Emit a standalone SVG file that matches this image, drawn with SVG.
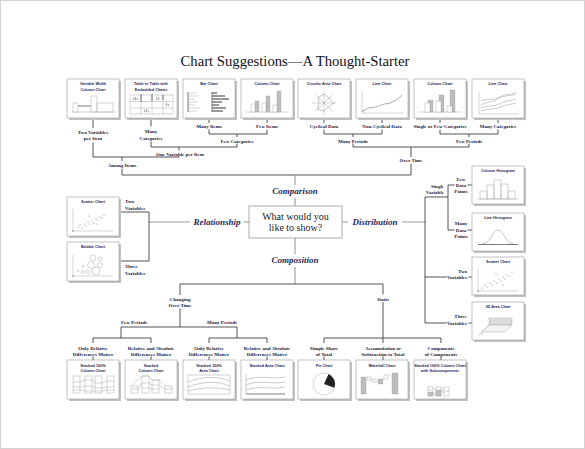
<svg xmlns="http://www.w3.org/2000/svg" xmlns:xlink="http://www.w3.org/1999/xlink" width="585" height="449" viewBox="0 0 585 449">
<style>
.bx{fill:#fff;stroke:#9a9a9a;stroke-width:0.6}
.sh{fill:#c2c2c2}
.tt{font-family:"Liberation Sans",Arial,sans-serif;font-weight:bold;font-size:3.8px;fill:#1a1d5a;text-anchor:middle}
.lb,.le,.ls{font-family:"Liberation Serif","Times New Roman",serif;font-size:5px;font-weight:bold;fill:#1b1b3c}
.lb{text-anchor:middle}
.le{text-anchor:end}
.ls{text-anchor:start}
.cat{font-family:"Liberation Serif","Times New Roman",serif;font-size:9px;font-weight:bold;font-style:italic;fill:#1f2a5c;text-anchor:middle}
.q{font-family:"Liberation Serif","Times New Roman",serif;font-size:10px;fill:#222;text-anchor:middle}
.c{fill:none;stroke:#2a2a2a;stroke-width:0.8}
.cg{fill:none;stroke:#9a9a9a;stroke-width:1.1}
.g{fill:none;stroke:#a8a8a8;stroke-width:0.5}
.gf{fill:#bdbdbd;stroke:#999;stroke-width:0.3}
.wf{fill:#fff;stroke:#999;stroke-width:0.4}
.k{fill:none;stroke:#222;stroke-width:0.6}
.d{fill:#666}
</style>
<defs>
<g id="fr"><rect class="sh" x="2" y="2" width="52" height="39"/><rect class="bx" x="0" y="0" width="52" height="39"/></g>
<g id="fr2"><rect class="sh" x="2" y="2" width="52" height="38"/><rect class="bx" x="0" y="0" width="52" height="38"/></g>
</defs>
<rect x="0" y="0" width="585" height="449" fill="#fff"/>
<rect x="0.5" y="0.5" width="584" height="448" fill="none" stroke="#d4d4d4"/>
<text x="295" y="66" font-family="'Liberation Serif','Times New Roman',serif" font-size="14.5" fill="#111122" text-anchor="middle" textLength="229" lengthAdjust="spacingAndGlyphs">Chart Suggestions—A Thought-Starter</text>

<g id="connectors">
<path class="c" d="M93,118V128M93,142.5V157H179M151,118V126.5M151,141.5V147H237M179,147V150.5M179,156V157M209,118V123M209,129.5V134H267M267,118V123M267,129.5V134M237,134V137M237,143.5V147M122,157V161M122,168.5V175H411"/>
<path class="c" d="M324,118V123M324,129.5V134H382M382,118V123M382,129.5V134M353,134V137M353,143.5V147H469M440,118V123M440,129.5V134H498M498,118V123M498,129.5V134M469,134V137M469,143.5V147M411,147V157M411,164V175"/>
<path class="cg" d="M295,175V185M295,198V206M295,238V254M295,267V284M249,222H244M190,222H149M342,222H348M402,222H425"/>
<path class="c" d="M149,212V261M118,212H149M118,261H149"/>
<path class="c" d="M425,197V323M425,197H448M448,185V230M448,185H454.5M467.5,185H472M448,230H454.5M467.5,230H472M425,277H446.5M468.5,277H472M425,323H446.5M468.5,323H472"/>
<path class="c" d="M180,284H383M180,284V295M180,308.5V327M121,327H237M121,327V338M237,327V338M93,338H151M209,338H267M93,338V343M151,338V343M209,338V343M267,338V343M93,356.5V360M151,356.5V360M209,356.5V360M267,356.5V360"/>
<path class="c" d="M383,284V294.5M383,302V343M324,338H441M324,338V343M441,338V343M324,356.5V360M383,356.5V360M441,356.5V360"/>
</g>

<g id="labels">
<text class="lb" x="93" y="133.5">Two Variables</text><text class="lb" x="93" y="140">per Item</text>
<text class="lb" x="151" y="132.5">Many</text><text class="lb" x="151" y="139.5">Categories</text>
<text class="lb" x="209" y="127.5">Many Items</text><text class="lb" x="267" y="127.5">Few Items</text>
<text class="lb" x="237" y="142.5">Few Categories</text>
<text class="lb" x="180" y="155.5">One Variable per Item</text>
<text class="lb" x="122" y="167">Among Items</text>
<text class="lb" x="324" y="127.5">Cyclical Data</text><text class="lb" x="382" y="127.5">Non-Cyclical Data</text>
<text class="lb" x="353" y="142.5">Many Periods</text>
<text class="lb" x="440" y="127.5">Single or Few Categories</text><text class="lb" x="498" y="127.5">Many Categories</text>
<text class="lb" x="469" y="142.5">Few Periods</text>
<text class="lb" x="411" y="162">Over Time</text>
<text class="cat" x="295" y="194">Comparison</text>
<text class="cat" x="217" y="225">Relationship</text>
<text class="cat" x="375" y="225">Distribution</text>
<text class="cat" x="295" y="263">Composition</text>
<text class="ls" x="125" y="202.5">Two</text><text class="ls" x="125" y="209.5">Variables</text>
<text class="ls" x="125" y="268">Three</text><text class="ls" x="125" y="274.5">Variables</text>
<text class="le" x="444" y="187.5">Single</text><text class="le" x="444" y="194">Variable</text>
<text class="lb" x="461" y="180.5">Few</text><text class="lb" x="461" y="186.5">Data</text><text class="lb" x="461" y="193">Points</text>
<text class="lb" x="461" y="225">Many</text><text class="lb" x="461" y="231.5">Data</text><text class="lb" x="461" y="238">Points</text>
<text class="le" x="467" y="273">Two</text><text class="le" x="467" y="278.5">Variables</text>
<text class="le" x="467" y="317.5">Three</text><text class="le" x="467" y="324.5">Variables</text>
<text class="lb" x="180" y="301">Changing</text><text class="lb" x="180" y="306.5">Over Time</text>
<text class="lb" x="134" y="324">Few Periods</text><text class="lb" x="222" y="324">Many Periods</text>
<text class="lb" x="383" y="300.5">Static</text>
<text class="lb" x="93" y="349.5">Only Relative</text><text class="lb" x="93" y="355.5">Differences Matter</text>
<text class="lb" x="151" y="349.5">Relative and Absolute</text><text class="lb" x="151" y="355.5">Differences Matter</text>
<text class="lb" x="209" y="349.5">Only Relative</text><text class="lb" x="209" y="355.5">Differences Matter</text>
<text class="lb" x="267" y="349.5">Relative and Absolute</text><text class="lb" x="267" y="355.5">Differences Matter</text>
<text class="lb" x="324" y="349.5">Simple Share</text><text class="lb" x="324" y="355.5">of Total</text>
<text class="lb" x="383" y="349.5">Accumulation or</text><text class="lb" x="383" y="355.5">Subtraction to Total</text>
<text class="lb" x="441" y="349.5">Components</text><text class="lb" x="441" y="355.5">of Components</text>
</g>

<g id="n-question">
<rect x="249" y="206" width="93" height="32" fill="#fff" stroke="#999" stroke-width="0.8"/>
<text class="q" x="295.5" y="219.5">What would you</text>
<text class="q" x="295.5" y="231">like to show?</text>
</g>

<g id="n-varwidth" transform="translate(67,79)"><use href="#fr"/>
<text class="tt" x="26" y="6">Variable Width</text><text class="tt" x="26" y="12">Column Chart</text>
<path class="g" d="M5,33H48"/><rect class="g" x="6" y="24" width="5" height="9"/><path class="k" d="M11,27H24"/><rect class="g" x="24" y="17" width="6" height="16"/><rect class="g" x="30" y="24" width="16" height="9"/>
</g>
<g id="n-table" transform="translate(125,79)"><use href="#fr"/>
<text class="tt" x="26" y="6">Table or Table with</text><text class="tt" x="26" y="12">Embedded Charts</text>
<path class="g" d="M5,16H48M5,22.5H48M5,29H48M5,35H48M5,16V35M16,16V35M27,16V35M38,16V35M48,16V35"/>
<path class="k" d="M16,15V23M27,15V22M38,16V21"/>
<path class="gf" d="M8,21h1v-2h-1zM10,21h1v-3h-1zM12,21h1v-1.5h-1zM31,21h1v-2h-1zM33,21h1v-3h-1zM19,33h1v-2h-1zM21,33h1v-3h-1zM23,33h1v-1h-1zM41,27h1v-3h-1zM43,27h1v-2h-1z"/>
</g>
<g id="n-bar" transform="translate(183,79)"><use href="#fr"/>
<text class="tt" x="26" y="6">Bar Chart</text>
<path class="g" d="M5,14h9M5,17h11M5,20h7M5,23h10M5,26h8M5,29h12M5,32h9" stroke-width="1.2"/>
<path class="k" d="M5,13V33M29,13V33"/>
<path d="M29,14h5M29,17h13M29,20h17M29,23h10M29,26h7M29,29h14M29,32h11" stroke="#777" stroke-width="1.6"/>
</g>
<g id="n-column1" transform="translate(241,79)"><use href="#fr"/>
<text class="tt" x="26" y="6">Column Chart</text>
<path class="g" d="M4,33H48"/>
<rect class="gf" x="14" y="22" width="4" height="11"/><rect class="gf" x="25" y="17" width="4" height="16"/><rect class="gf" x="36" y="12" width="4" height="21"/>
<rect class="wf" x="10" y="25" width="4" height="8"/><rect class="wf" x="21" y="24" width="4" height="9"/><rect class="wf" x="32" y="26" width="4" height="7"/>
</g>
<g id="n-circular" transform="translate(298,79)"><use href="#fr"/>
<text class="tt" x="26" y="6">Circular Area Chart</text>
<path class="g" d="M26,12V36M14,24H38M17.5,15.5L34.5,32.5M34.5,15.5L17.5,32.5"/>
<path fill="none" stroke="#888" stroke-width="0.5" d="M26,15L30.9,19.1L36,24L30.2,28.2L26,32L19.6,30.4L21,24L20.3,18.3Z"/>
</g>
<g id="n-line1" transform="translate(356,79)"><use href="#fr"/>
<text class="tt" x="26" y="6">Line Chart</text>
<path class="g" d="M6,12V34H47"/>
<polyline fill="none" stroke="#777" stroke-width="0.6" points="7,32 12,29 17,28.5 23,27 28,25 33,24.5 38,22 42,20 46,16"/>
<circle class="d" cx="7" cy="32" r="0.6"/>
</g>
<g id="n-column2" transform="translate(414,79)"><use href="#fr"/>
<text class="tt" x="26" y="6">Column Chart</text>
<path class="g" d="M4,33H48"/>
<rect class="gf" x="14" y="21" width="5" height="12"/><rect class="gf" x="25" y="16" width="5" height="17"/><rect class="gf" x="36" y="11" width="5" height="22"/>
<rect class="wf" x="11" y="24" width="5" height="9"/><rect class="wf" x="22" y="22" width="5" height="11"/><rect class="wf" x="33" y="27" width="5" height="6"/>
</g>
<g id="n-line2" transform="translate(472,79)"><use href="#fr"/>
<text class="tt" x="26" y="6">Line Chart</text>
<path class="g" d="M7,13V35H47"/>
<path fill="none" stroke="#999" stroke-width="0.5" d="M9,26C15,22 20,24 25,20S35,18 44,15M9,29C15,26 22,28 27,25S37,22 44,20M9,22C16,19 22,22 28,18S38,17 44,13M9,32C16,29 23,31 29,28S38,26 44,24"/>
</g>

<g id="n-scatter-left" transform="translate(67,197)"><use href="#fr"/>
<text class="tt" x="26" y="6">Scatter Chart</text>
<path class="g" d="M6,12V34H46"/><circle class="d" cx="6" cy="34" r="0.7"/>
<g class="d"><circle cx="11" cy="30" r="0.5"/><circle cx="13" cy="28" r="0.5"/><circle cx="15" cy="31" r="0.5"/><circle cx="17" cy="27" r="0.5"/><circle cx="19" cy="29" r="0.5"/><circle cx="21" cy="25" r="0.5"/><circle cx="23" cy="27" r="0.5"/><circle cx="25" cy="24" r="0.5"/><circle cx="27" cy="26" r="0.5"/><circle cx="29" cy="22" r="0.5"/><circle cx="31" cy="23" r="0.5"/><circle cx="33" cy="20" r="0.5"/><circle cx="35" cy="21" r="0.5"/><circle cx="37" cy="18" r="0.5"/><circle cx="22" cy="19" r="0.5"/><circle cx="30" cy="27" r="0.5"/></g>
</g>
<g id="n-bubble" transform="translate(67,242)"><use href="#fr"/>
<text class="tt" x="26" y="6">Bubble Chart</text>
<path class="g" d="M6,13V34H46"/><circle class="d" cx="6" cy="34" r="0.7"/>
<g fill="none" stroke="#aaa" stroke-width="0.5"><circle cx="26" cy="16" r="3"/><circle cx="33" cy="17" r="2"/><circle cx="24" cy="23" r="3.5"/><circle cx="33" cy="23" r="2.5"/><circle cx="29" cy="29" r="4"/><circle cx="21" cy="30" r="2"/><circle cx="16" cy="30" r="1.5"/><circle cx="11" cy="29" r="1"/><circle cx="16" cy="24" r="1"/></g>
</g>

<g id="n-colhist" transform="translate(472,166)"><use href="#fr2"/>
<text class="tt" x="26" y="6">Column Histogram</text>
<path class="g" d="M5,33H47"/>
<rect class="g" x="8" y="25" width="7" height="8"/><rect class="g" x="15" y="19" width="7" height="14"/><rect class="g" x="22" y="14" width="7" height="19"/><rect class="g" x="29" y="18" width="7" height="15"/><rect class="g" x="36" y="25" width="7" height="8"/>
</g>
<g id="n-linehist" transform="translate(472,213)"><use href="#fr2"/>
<text class="tt" x="26" y="6">Line Histogram</text>
<path fill="none" stroke="#888" stroke-width="0.5" d="M10,31C19,31 20,17 26,17C32,17 33,31 42,31"/>
<path class="k" d="M6,31.5H46"/>
</g>
<g id="n-scatter-right" transform="translate(472,257)"><use href="#fr2"/>
<text class="tt" x="26" y="6">Scatter Chart</text>
<path class="g" d="M6,12V34H46"/><circle class="d" cx="6" cy="34" r="0.7"/>
<g class="d"><circle cx="10" cy="31" r="0.5"/><circle cx="13" cy="28" r="0.5"/><circle cx="15" cy="30" r="0.5"/><circle cx="18" cy="26" r="0.5"/><circle cx="20" cy="28" r="0.5"/><circle cx="22" cy="24" r="0.5"/><circle cx="25" cy="26" r="0.5"/><circle cx="27" cy="22" r="0.5"/><circle cx="29" cy="24" r="0.5"/><circle cx="31" cy="20" r="0.5"/><circle cx="33" cy="22" r="0.5"/><circle cx="35" cy="18" r="0.5"/><circle cx="38" cy="19" r="0.5"/><circle cx="40" cy="15" r="0.5"/><circle cx="24" cy="17" r="0.5"/><circle cx="31" cy="28" r="0.5"/></g>
</g>
<g id="n-3darea" transform="translate(472,302)"><use href="#fr2"/>
<text class="tt" x="26" y="6">3D Area Chart</text>
<path fill="#e8e8e8" stroke="#999" stroke-width="0.4" d="M17,16H40V23H17Z"/>
<path fill="none" stroke="#aaa" stroke-width="0.4" d="M17,18H40M17,20H40M17,22H40"/>
<path fill="#f2f2f2" stroke="#999" stroke-width="0.4" d="M17,23H40L33,30H10Z"/>
<path class="g" d="M6,34L17,23M10,30V34"/>
</g>

<g id="n-stack100col" transform="translate(67,360)"><use href="#fr"/>
<text class="tt" x="26" y="6.5">Stacked 100%</text><text class="tt" x="26" y="12">Column Chart</text>
<g class="g"><rect x="6" y="16" width="7" height="17"/><rect x="18" y="16" width="7" height="17"/><rect x="28" y="16" width="7" height="17"/><rect x="40" y="16" width="7" height="17"/>
<path d="M6,22H13L18,20H25L28,23H35L40,21H47M6,27H13L18,26H25L28,28H35L40,27H47M6,30H13L18,31H25L28,31H35L40,30H47"/></g>
</g>
<g id="n-stackcol" transform="translate(125,360)"><use href="#fr"/>
<text class="tt" x="26" y="6.5">Stacked</text><text class="tt" x="26" y="12">Column Chart</text>
<g class="g"><rect x="6" y="26" width="7" height="7"/><rect x="17" y="16" width="7" height="17"/><rect x="27" y="20" width="7" height="13"/><rect x="40" y="26" width="7" height="7"/>
<path d="M6,26L17,16H24L27,20H34L40,26M6,29H13L17,23H24L27,25H34L40,29H47M17,28H24L27,29H34"/></g>
</g>
<g id="n-stack100area" transform="translate(183,360)"><use href="#fr"/>
<text class="tt" x="26" y="6.5">Stacked 100%</text><text class="tt" x="26" y="12">Area Chart</text>
<rect class="g" x="5" y="15" width="42" height="19"/>
<path fill="none" stroke="#999" stroke-width="0.5" d="M5,22C20,16 35,16 47,21M5,27C20,21 35,21 47,26M5,31C20,27 35,27 47,30"/>
</g>
<g id="n-stackarea" transform="translate(241,360)"><use href="#fr"/>
<text class="tt" x="26" y="6.5">Stacked Area Chart</text>
<path fill="none" stroke="#999" stroke-width="0.5" d="M5,20C18,14 30,20 44,17M5,25C18,19 30,25 44,22M5,30C18,25 30,30 44,27M5,14V34"/>
<path class="k" d="M5,34H44"/>
</g>
<g id="n-pie" transform="translate(298,360)"><use href="#fr"/>
<text class="tt" x="26" y="6.5">Pie Chart</text>
<circle cx="26" cy="24" r="11" fill="none" stroke="#aaa" stroke-width="0.5"/>
<path fill="#222" d="M26,24L30.6,14A11,11 0 0 1 36.3,27.8Z"/>
</g>
<g id="n-waterfall" transform="translate(356,360)"><use href="#fr"/>
<text class="tt" x="26" y="6.5">Waterfall Chart</text>
<rect class="gf" x="5" y="17" width="5" height="17"/><rect class="wf" x="11" y="17" width="4" height="3"/><rect class="wf" x="16" y="19" width="4" height="3"/>
<rect class="gf" x="22" y="19" width="5" height="5"/><rect class="wf" x="28" y="15" width="4" height="4"/><rect class="gf" x="36" y="13" width="6" height="21"/>
<path fill="none" stroke="#888" stroke-width="0.3" stroke-dasharray="0.8 0.6" d="M10,17H11M15,20H16M20,22H22M27,19H28M32,15H36"/>
</g>
<g id="n-subcomp" transform="translate(414,360)"><use href="#fr"/>
<text class="tt" x="26" y="6.5">Stacked 100% Column Chart</text><text class="tt" x="26" y="12">with Subcomponents</text>
<rect class="wf" x="14" y="27" width="5" height="9"/><rect class="gf" x="14" y="32" width="5" height="4"/>
<rect class="wf" x="22" y="27" width="5" height="9"/><rect class="gf" x="22" y="30" width="5" height="6"/>
<rect class="wf" x="30" y="27" width="5" height="9"/>
<path class="g" d="M19,27L22,30M19,32L22,36M27,27L30,30M27,30L30,33M14,30H19M30,31H35"/>
</g>
</svg>
